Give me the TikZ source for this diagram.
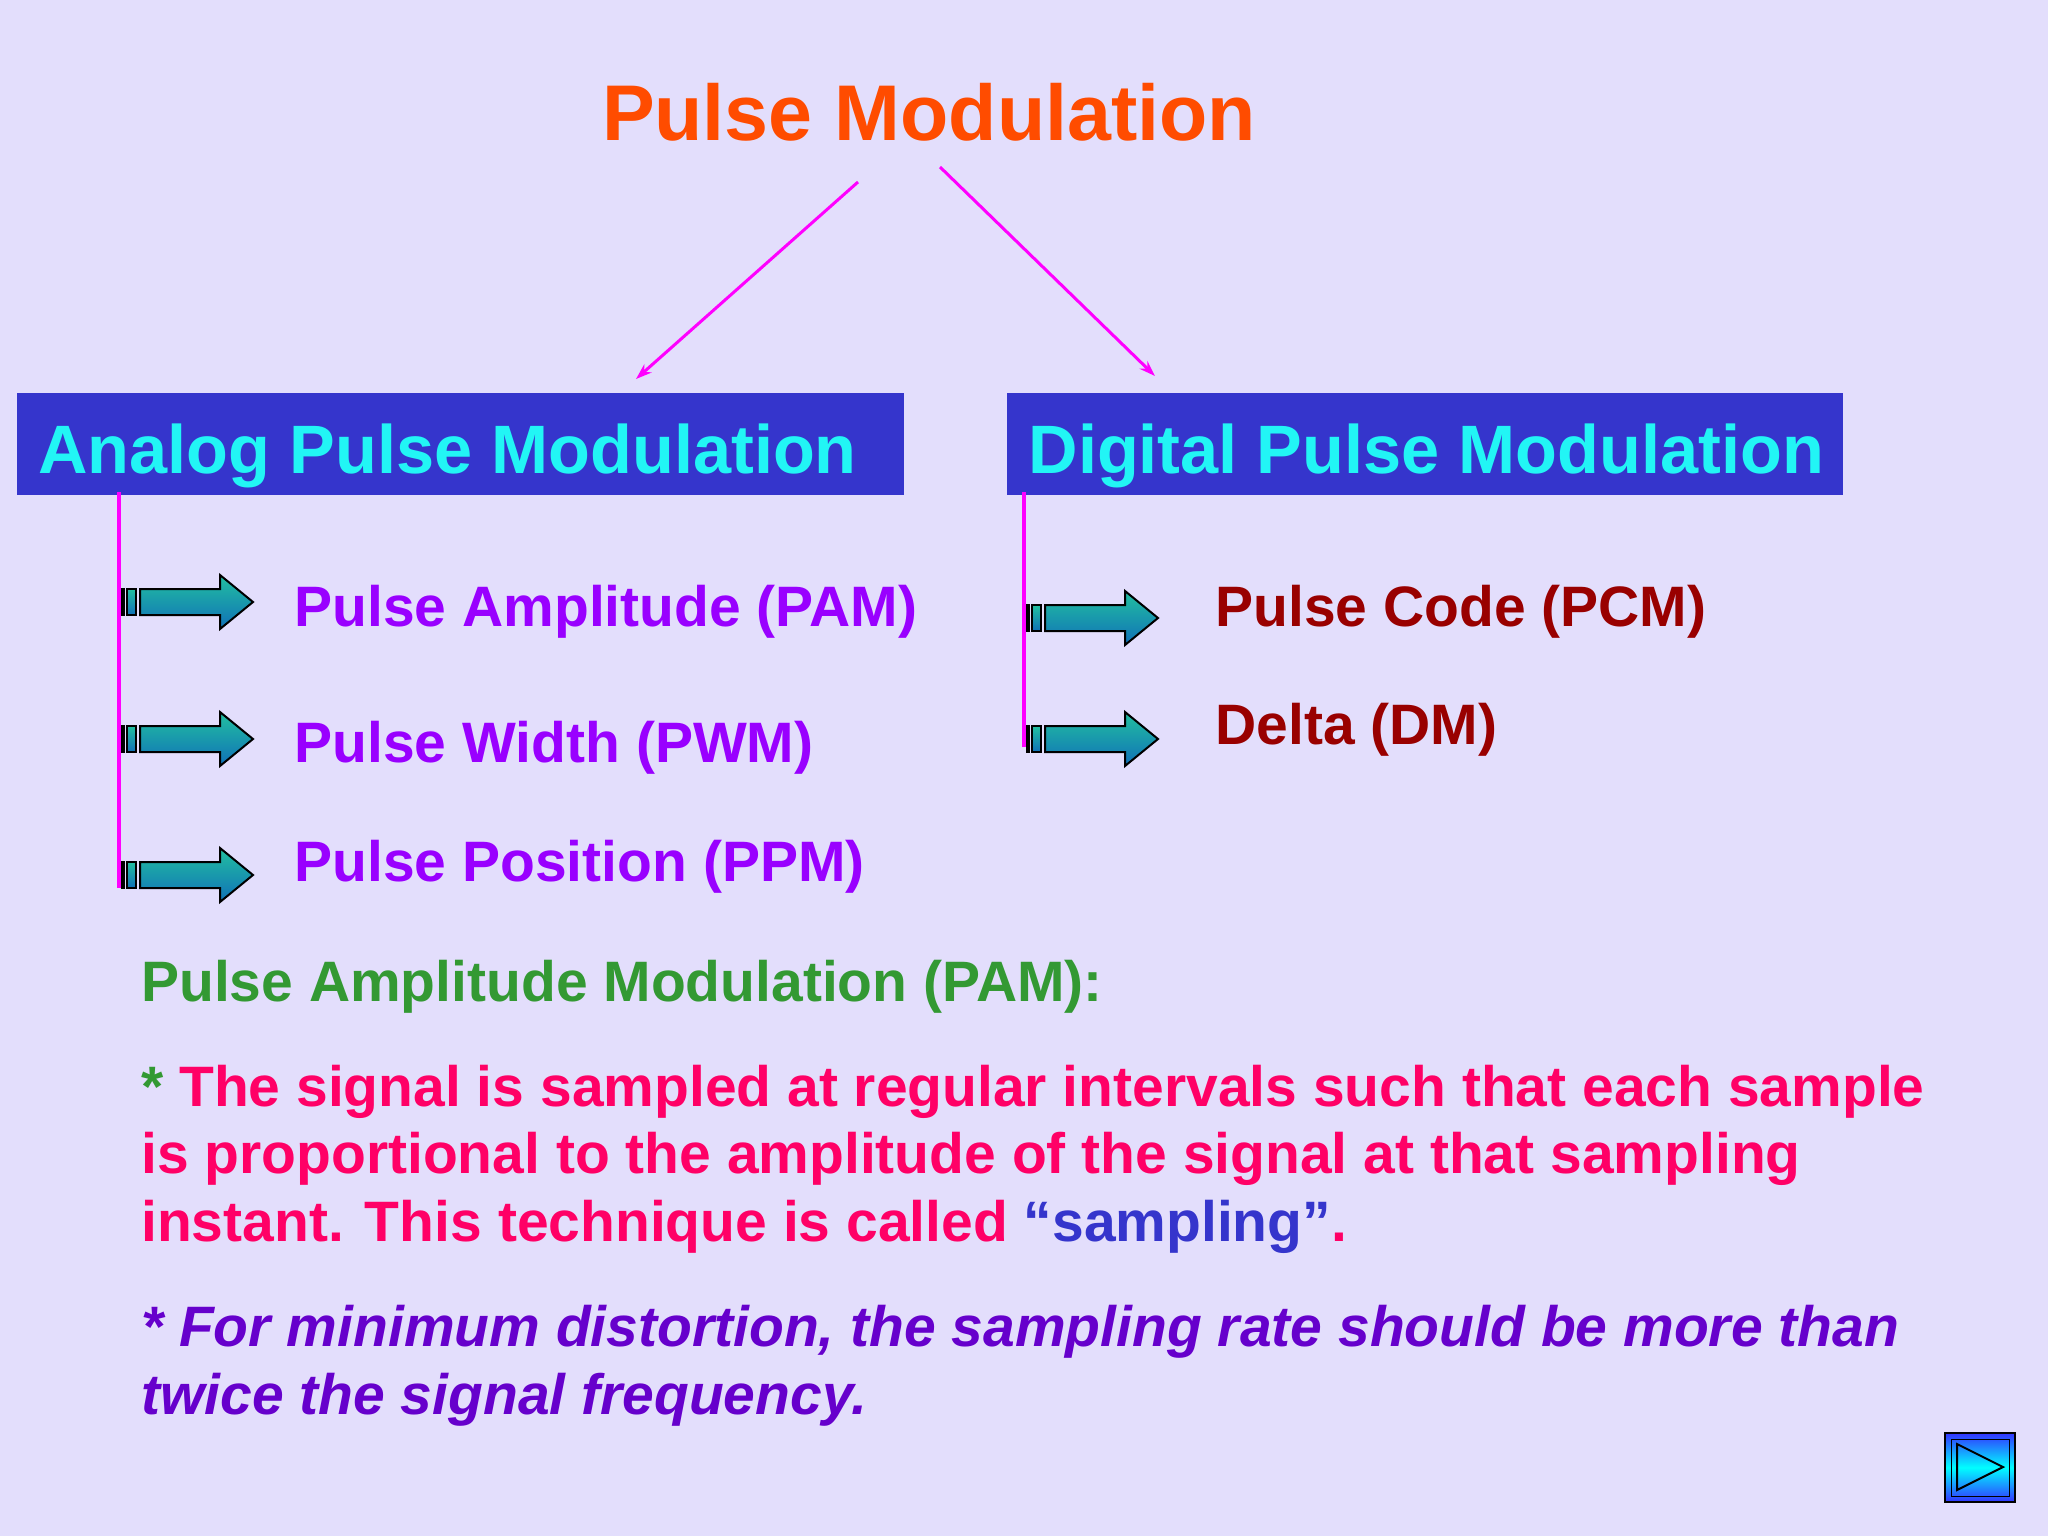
\documentclass[tikz,border=0pt]{standalone}
\usepackage{fontspec}
\setmainfont{Liberation Sans}
\usetikzlibrary{arrows.meta}
\begin{document}
\begin{tikzpicture}[x=1pt,y=-1pt,
  bx/.style={fill=boxblue,draw=none,anchor=north west,inner sep=0pt},
  hd/.style={anchor=base west,text=cy,font=\fontsize{68.5}{76}\selectfont\bfseries},
  it/.style={anchor=base west,text=itv,font=\fontsize{57}{66}\selectfont\bfseries},
  ic/.style={anchor=base west,text=itr,font=\fontsize{57}{66}\selectfont\bfseries},
  tx/.style={anchor=base west,font=\fontsize{57}{66}\selectfont\bfseries,inner sep=0pt},
  mg/.style={draw=mag,line width=3.5pt},
  ar/.style={draw=mag,line width=3pt,-{Stealth[length=16pt,width=11pt]}},
  pics/icon/.style={code={
    \draw[line width=2pt,top color=ictop,bottom color=icbot] (20,-13)--(100,-13)--(100,-27)--(133,0)--(100,27)--(100,13)--(20,13)--cycle;
    \draw[line width=2pt,top color=ictop,bottom color=icbot] (7,-13) rectangle (16,13);
    \draw[line width=2pt,fill=icbot] (2,-13) rectangle (4,13);
  }}]
\definecolor{bg}{HTML}{E3DEFC}
\definecolor{boxblue}{HTML}{3535CC}
\definecolor{cy}{HTML}{22F5F5}
\definecolor{mag}{HTML}{FF00FF}
\definecolor{itv}{HTML}{9900FF}
\definecolor{itr}{HTML}{990000}
\definecolor{grn}{HTML}{339933}
\definecolor{pk}{HTML}{FF0066}
\definecolor{pu}{HTML}{6600CC}
\definecolor{ictop}{HTML}{22C0A0}
\definecolor{icbot}{HTML}{1070B8}
\fill[bg] (0,0) rectangle (2048,1536);
\useasboundingbox (0,0) rectangle (2048,1536);
\node[anchor=base,text=orange!60!red,font=\fontsize{79}{88}\selectfont\bfseries] (title) at (929,141) {Pulse Modulation};
\coordinate (la) at (858,182); \coordinate (lb) at (636,379);
\coordinate (ra) at (940,167); \coordinate (rb) at (1155,376);
\draw[ar] (la)--(lb);
\draw[ar] (ra)--(rb);
\node[bx,minimum width=887pt,minimum height=102pt] (lbox) at (17,393) {};
\node[bx,minimum width=836pt,minimum height=102pt] (rbox) at (1007,393) {};
\node[hd] (lt) at (35,473) {Analog Pulse Modulation};
\node[hd] (rt) at (1025,473) {Digital Pulse Modulation};
\coordinate (l1) at (119,492); \coordinate (l2) at (119,888);
\coordinate (r1) at (1024,492); \coordinate (r2) at (1024,747);
\draw[mg] (l1)--(l2);
\draw[mg] (r1)--(r2);
\pic at (120,602) {icon};
\pic at (120,739) {icon};
\pic at (120,875) {icon};
\pic at (1025,618) {icon};
\pic at (1025,739) {icon};
\node[it] (pam) at (291,626) {Pulse Amplitude (PAM)};
\node[it] (pwm) at (291,762) {Pulse Width (PWM)};
\node[it] (ppm) at (291,881) {Pulse Position (PPM)};
\node[ic] (pcm) at (1212,626) {Pulse Code (PCM)};
\node[ic] (dm) at (1212,744) {Delta (DM)};
\node[tx,text=grn] (h) at (141,1001) {Pulse Amplitude Modulation (PAM):};
\node[tx,text=pk] (p1) at (141,1106) {{\color{grn}*} The signal is sampled at regular intervals such that each sample};
\node[tx,text=pk] (p2) at (141,1173) {is proportional to the amplitude of the signal at that sampling};
\node[tx,text=pk] (p3) at (141,1241) {instant. This technique is called {\color{boxblue}“sampling”}.};
\node[tx,text=pu,font=\fontsize{57}{66}\selectfont\bfseries\itshape] (q1) at (141,1346) {* For minimum distortion, the sampling rate should be more than};
\node[tx,text=pu,font=\fontsize{57}{66}\selectfont\bfseries\itshape] (q2) at (141,1414) {twice the signal frequency.};
\draw[line width=2pt,top color=blue!80,bottom color=blue!80,middle color=cyan] (1945,1433) rectangle (2015,1502);
\draw[line width=1pt] (1951,1439) rectangle (2009,1496);
\draw[line width=2pt] (1957,1444)--(2003,1467)--(1957,1490)--cycle;
\end{tikzpicture}
\end{document}
